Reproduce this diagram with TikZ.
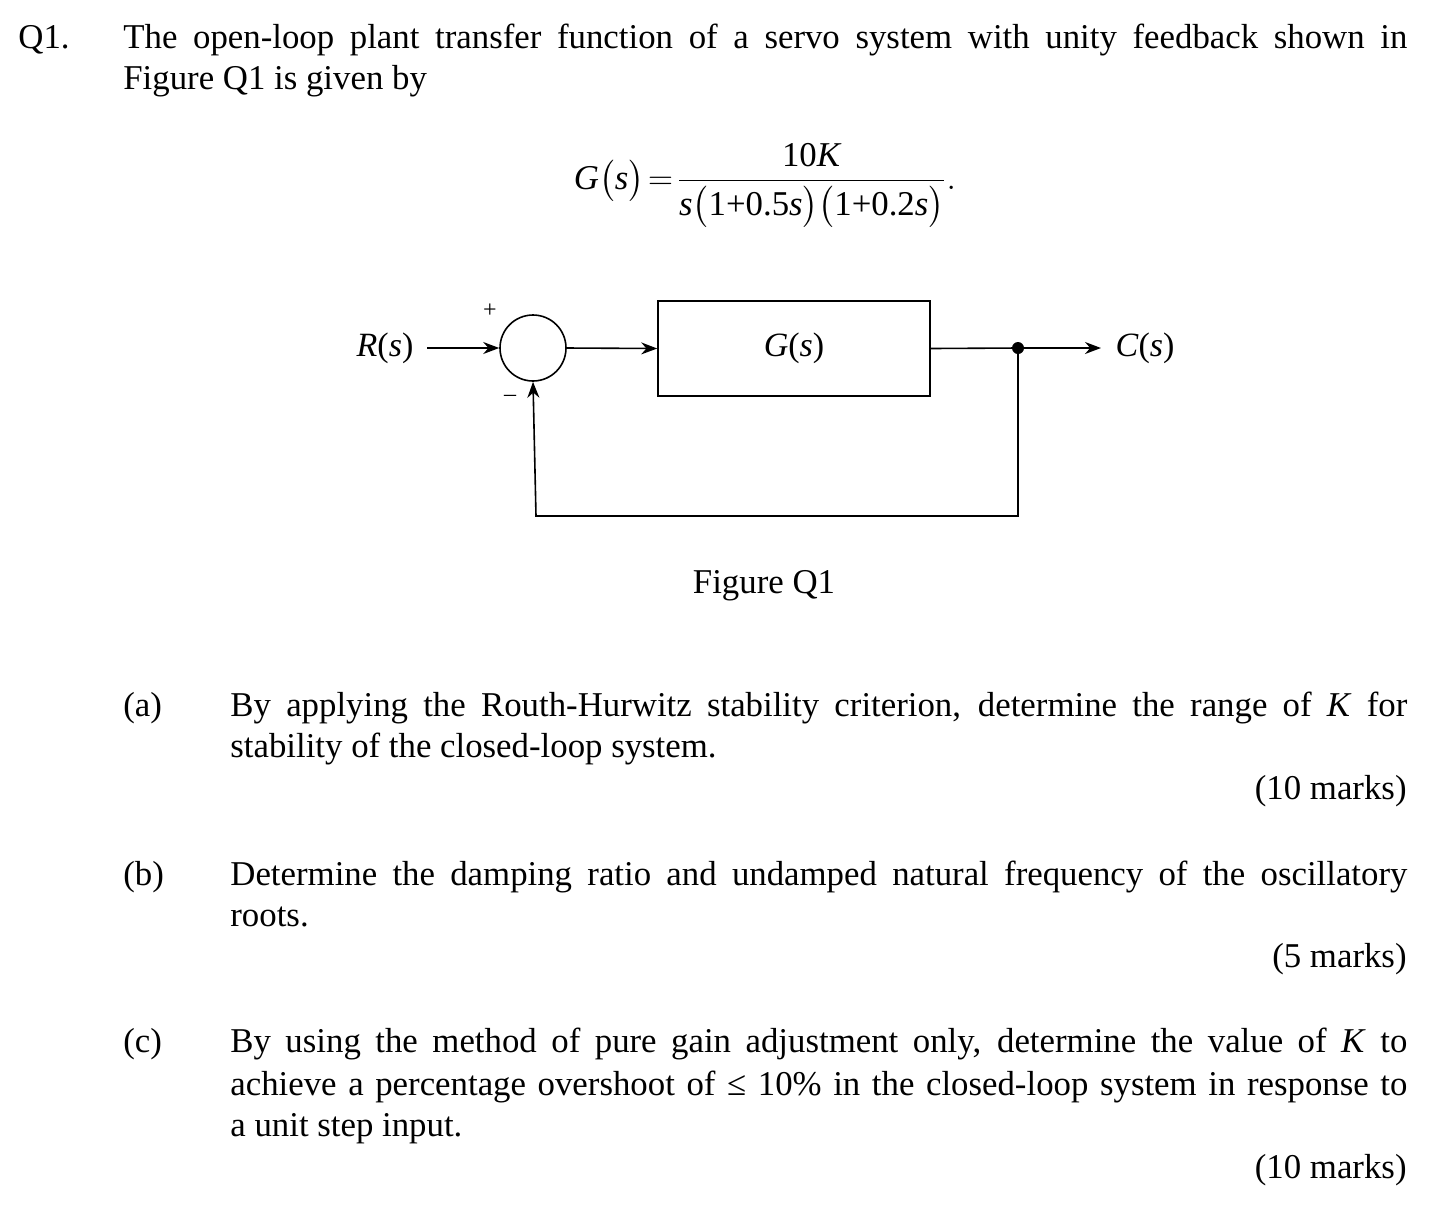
\documentclass[tikz,border=0pt]{standalone}
\usepackage{amsmath}
\usepackage{fontspec}
\setmainfont{Liberation Serif}
\usetikzlibrary{arrows.meta}
\tikzset{px/.style={x=0.5pt,y=-0.5pt},
 txt/.style={anchor=base west,inner sep=0pt,font=\fontsize{17.4pt}{20pt}\selectfont},
 txr/.style={anchor=base east,inner sep=0pt,font=\fontsize{17.4pt}{20pt}\selectfont},
 lab/.style={inner sep=0pt,font=\fontsize{17pt}{19pt}\selectfont},
 wire/.style={line width=0.8pt},
 arr/.style={wire,-{Stealth[length=8pt,width=6pt]}}}
\newcommand{\jl}[2]{\makebox[#1][s]{#2}}
\begin{document}
\begin{tikzpicture}[px]
\useasboundingbox (0,0) rectangle (1442,1212);
\node[txt] (q) at (18,48) {Q1.};
\node[txt] (l1) at (123,48) {\jl{642pt}{The open-loop plant transfer function of a servo system with unity feedback shown in}};
\node[txt] (l2) at (123,89) {Figure Q1 is given by};
\node[lab,font=\fontsize{17.4pt}{20pt}\selectfont] (eq) at (765,185) {$\textit{G}\bigl(\textit{s}\bigr)\!=\!\dfrac{\text{10\textit{K}}\rule[-4pt]{0pt}{4pt}}{\text{\textit{s}}\bigl(\text{1+0.5\textit{s}}\bigr)\bigl(\text{1+0.2\textit{s}}\bigr)}.$};
% diagram
\node[draw,circle,wire,minimum size=66pt/2,inner sep=0pt] (sum) at (533,348) {};
\node[draw,wire,minimum width=136pt,minimum height=47.5pt] (g) at (794,348.5) {\fontsize{17pt}{19pt}\selectfont\textit{G}(\textit{s})};
\node[lab] (r) at (385,348) {\textit{R}(\textit{s})};
\node[lab] (c) at (1145,348) {\textit{C}(\textit{s})};
\coordinate (rin) at (427,348);
\coordinate (dot) at (1018,348);
\coordinate (cout) at (1101,348);
\fill (dot) circle (3pt);
\draw[arr] (rin) -- (sum.west);
\draw[arr] (sum.east) -- (g.west);
\draw[wire] (g.east) -- (dot);
\draw[arr] (dot) -- (cout);
\draw[arr] (dot) |- (536,516) -- (sum.south);
\node[lab,font=\fontsize{12pt}{14pt}\selectfont] (plus) at (490,311) {+};
\node[lab,font=\fontsize{12pt}{14pt}\selectfont] (minus) at (510,398) {--};
\node[txt,anchor=base] (fig) at (764,593) {Figure Q1};
% parts
\node[txt] (a) at (123,716) {(a)};
\node[txt] (a1) at (230,716) {\jl{588.5pt}{By applying the Routh-Hurwitz stability criterion, determine the range of \textit{K} for}};
\node[txt] (a2) at (230,757) {stability of the closed-loop system.};
\node[txr] (am) at (1407,799) {(10 marks)};
\node[txt] (b) at (123,885) {(b)};
\node[txt] (b1) at (230,885) {\jl{588.5pt}{Determine the damping ratio and undamped natural frequency of the oscillatory}};
\node[txt] (b2) at (230,926) {roots.};
\node[txr] (bm) at (1407,967) {(5 marks)};
\node[txt] (c0) at (123,1052) {(c)};
\node[txt] (c1) at (230,1052) {\jl{588.5pt}{By using the method of pure gain adjustment only, determine the value of \textit{K} to}};
\node[txt] (c2) at (230,1095) {\jl{588.5pt}{achieve a percentage overshoot of ≤ 10\% in the closed-loop system in response to}};
\node[txt] (c3) at (230,1136) {a unit step input.};
\node[txr] (cm) at (1407,1178) {(10 marks)};
\end{tikzpicture}
\end{document}
